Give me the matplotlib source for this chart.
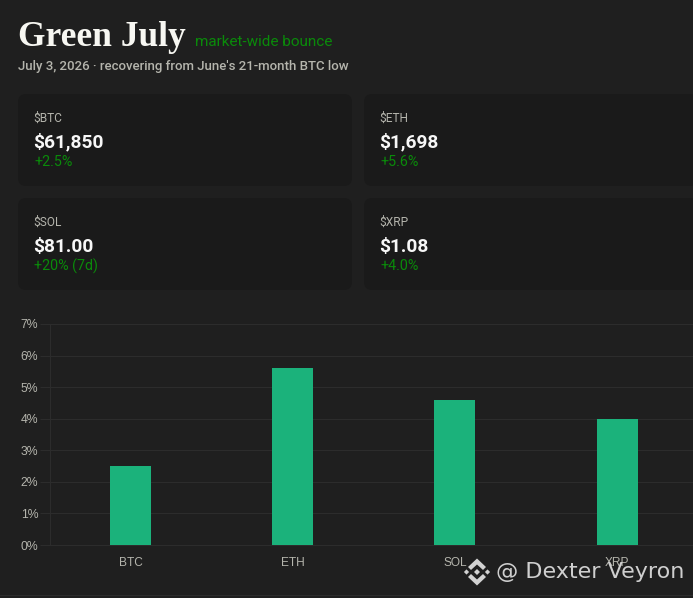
"""Green July market bounce dashboard card."""

import matplotlib
matplotlib.use("Agg")
import matplotlib.pyplot as plt
from matplotlib.patches import FancyBboxPatch, Polygon

W, H = 693, 598
BG = "#1f1f1f"
CARD = "#1a1a1a"
GRID = "#2c2c2c"
GREEN = "#0a8a0a"
BAR = "#1bb27b"
MUTED = "#b5b5ad"

coins = ["BTC", "ETH", "SOL", "XRP"]
changes = [2.5, 5.6, 4.6, 4.0]
y_ticks = [0, 1, 2, 3, 4, 5, 6, 7]

card_tickers = ["$BTC", "$ETH", "$SOL", "$XRP"]
card_prices = ["$61,850", "$1,698", "$81.00", "$1.08"]
card_moves = ["+2.5%", "+5.6%", "+20% (7d)", "+4.0%"]

plt.rcParams["font.family"] = ["Roboto", "DejaVu Sans"]
plt.rcParams["axes.linewidth"] = 0.72

fig = plt.figure(figsize=(W / 100, H / 100), dpi=100)
fig.patch.set_facecolor(BG)

# overlay in pixel coordinates for the header and the cards
page = fig.add_axes([0, 0, 1, 1])
page.set_xlim(0, W)
page.set_ylim(H, 0)
page.axis("off")

page.text(18, 37.5, "Green July", fontsize=25.5, fontweight="bold", family="Liberation Serif", color="#f7f7f2", va="center")
page.text(195, 41.5, "market-wide bounce", fontsize=11, color=GREEN, va="center")
page.text(18, 66.5, "July 3, 2026 · recovering from June's 21-month BTC low", fontsize=9.5, fontweight="medium", color=MUTED, va="center")

card_x = [18, 364, 18, 364]
card_y = [94, 94, 198, 198]
for i, ticker in enumerate(card_tickers):
    x, y = card_x[i], card_y[i]
    page.add_patch(FancyBboxPatch((x + 8, y + 8), 318, 76, boxstyle="round,pad=8,rounding_size=8", facecolor=CARD, edgecolor="none", clip_on=True))
    page.text(x + 15, y + 24, ticker, fontsize=8.6, color=MUTED, va="center")
    page.text(x + 15, y + 48.5, card_prices[i], fontsize=13.8, fontweight="bold", color="#f7f7f7", va="center")
    page.text(x + 16, y + 68.5, card_moves[i], fontsize=10.3, color=GREEN, va="center")

page.plot([0, W], [594.5, 594.5], color=GRID, linewidth=0.72)

# bar chart, right side runs off the canvas like the source
ax_left, ax_right, ax_top, ax_bottom = 49.5, 693, 324, 545
ax = fig.add_axes([ax_left / W, 1 - ax_bottom / H, (ax_right - ax_left) / W, (ax_bottom - ax_top) / H])
ax.patch.set_alpha(0)
ax.bar(coins, changes, color=BAR, width=0.252)
ax.set_xlim(-0.5, 3.468)
ax.set_ylim(0, 7)
ax.set_yticks(y_ticks)
ax.set_yticklabels([f"{t}%" for t in y_ticks])
ax.grid(axis="y", color=GRID, linewidth=0.72)
ax.set_axisbelow(True)
ax.tick_params(axis="y", colors=MUTED, labelsize=8.8, length=7, width=0.72, pad=1)
ax.tick_params(axis="x", colors=MUTED, labelsize=8.6, length=0, pad=9)
for label in ax.get_xticklabels() + ax.get_yticklabels():
    label.set_family("Liberation Sans")
ax.tick_params(axis="y", color=GRID)
ax.spines[["top", "right"]].set_visible(False)
ax.spines[["left", "bottom"]].set_color(GRID)

# watermark: diamond logo and handle
over = fig.add_axes([0, 0, 1, 1])
over.set_xlim(0, W)
over.set_ylim(H, 0)
over.axis("off")
over.patch.set_alpha(0)
mark = "#d2d2d2"
for cx, cy, r in [(477, 572, 3), (466.5, 572, 2.6), (487.5, 572, 2.6)]:
    over.add_patch(Polygon([(cx - r, cy), (cx, cy - r), (cx + r, cy), (cx, cy + r)], facecolor=mark))
over.add_patch(Polygon([(477, 558.5), (486, 567), (483, 570), (477, 564.5), (471, 570), (468, 567)], facecolor=mark))
over.add_patch(Polygon([(477, 585.5), (486, 577), (483, 574), (477, 579.5), (471, 574), (468, 577)], facecolor=mark))
over.text(496, 572, "@ Dexter Veyron", fontsize=16, family="DejaVu Sans", color="#cfcfcf", va="center")

fig.savefig("out.png", dpi=100, facecolor=fig.get_facecolor())
plt.close()
